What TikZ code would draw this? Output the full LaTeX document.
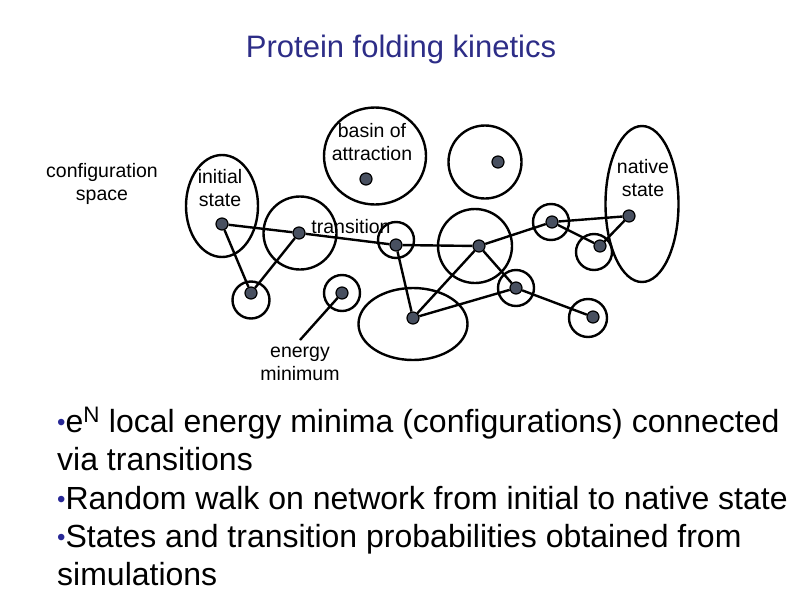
\documentclass[tikz,border=0pt]{standalone}
\usepackage{fontspec}
\setmainfont{Liberation Sans}
\usepackage{tikz}
\usetikzlibrary{positioning, shapes.geometric}
\definecolor{titleblue}{RGB}{45, 45, 135}
\definecolor{dotgray}{RGB}{72, 80, 96}
\definecolor{bulletblue}{RGB}{40, 40, 150}
\tikzset{
  ring/.style={draw, line width=2.4pt, ellipse, inner sep=0pt},
  state/.style={circle, draw, fill=dotgray, line width=1.2pt, inner sep=0pt, minimum size=12pt},
  link/.style={line width=2.4pt},
  label text/.style={align=center, inner sep=0pt, font=\fontsize{19.5}{23}\selectfont},
  bullet line/.style={anchor=base west, inner sep=0pt, font=\fontsize{32}{38}\selectfont}
}
\newcommand{\blt}{{\color{bulletblue}\raisebox{2pt}{\fontsize{24}{24}\selectfont\textbullet}}}
\begin{document}
\begin{tikzpicture}[x={(1pt,0pt)}, y={(0pt,-1pt)}]
    \useasboundingbox (0,0) rectangle (800,600);
    % title
    \node[text=titleblue, inner sep=0pt, font=\fontsize{31}{36}\selectfont] (title) at (401,49) {Protein folding kinetics};
    % basins round the minima
    \node[ring, minimum width=72pt, minimum height=102pt] (rini) at (222,206) {};
    \node[ring, minimum width=102pt, minimum height=97pt] (rbasin) at (375,156) {};
    \node[ring, minimum size=73pt] (rtrans) at (300,233) {};
    \node[ring, minimum size=36pt] (rc3) at (396,240) {};
    \node[ring, minimum size=74pt] (rc4) at (475,246) {};
    \node[ring, minimum size=73pt] (rtop) at (485,162) {};
    \node[ring, minimum size=36pt] (rc6) at (551,222) {};
    \node[ring, minimum size=36pt] (rc7) at (594,252) {};
    \node[ring, minimum width=73pt, minimum height=156pt] (rnat) at (642,204) {};
    \node[ring, minimum size=36pt] (rc5) at (516,288) {};
    \node[ring, minimum size=38pt] (rc8) at (588,318) {};
    \node[ring, minimum width=109pt, minimum height=72pt] (rbot) at (413,324) {};
    \node[ring, minimum size=37pt] (rbl) at (251,300) {};
    \node[ring, minimum size=36pt] (rem) at (342,293) {};
    % minima
    \node[state] (ini) at (222,224) {};
    \node[state] (basin) at (366,179) {};
    \node[state] (trans) at (299,233) {};
    \node[state] (c3) at (396,245) {};
    \node[state] (c4) at (479,246) {};
    \node[state] (top) at (498,162) {};
    \node[state] (c6) at (552,222) {};
    \node[state] (c7) at (600,246) {};
    \node[state] (nat) at (629,216) {};
    \node[state] (c5) at (516,288) {};
    \node[state] (c8) at (593,317) {};
    \node[state] (bot) at (413,318) {};
    \node[state] (bl) at (251,293) {};
    \node[state] (em) at (342,293) {};
    \coordinate (emtip) at (300,340);
    % transitions
    \draw[link] (ini) -- (trans);
    \draw[link] (trans) -- (c3);
    \draw[link] (c3) -- (c4);
    \draw[link] (ini) -- (bl);
    \draw[link] (bl) -- (trans);
    \draw[link] (c3) -- (bot);
    \draw[link] (bot) -- (c4);
    \draw[link] (bot) -- (c5);
    \draw[link] (c4) -- (c5);
    \draw[link] (c4) -- (c6);
    \draw[link] (c6) -- (nat);
    \draw[link] (c6) -- (c7);
    \draw[link] (c7) -- (nat);
    \draw[link] (c5) -- (c8);
    \draw[link] (em) -- (emtip);
    % labels
    \node[label text] (lconf) at (102,184) {configuration\\space};
    \node[label text] (lini) at (220,188) {initial\\state};
    \node[label text] (lbasin) at (372,142) {basin of\\attraction};
    \node[label text] (ltrans) at (351,227) {transition};
    \node[label text] (lnat) at (643,178) {native\\state};
    \node[label text, below=7pt of emtip] (lem) {energy\\minimum};
    % bullet points
    \node[bullet line] (b1) at (57,432) {\blt e\textsuperscript{N} local energy minima (configurations) connected};
    \node[bullet line] (b2) at (57,470) {via transitions};
    \node[bullet line] (b3) at (57,509) {\blt Random walk on network from initial to native state};
    \node[bullet line] (b4) at (57,547) {\blt States and transition probabilities obtained from};
    \node[bullet line] (b5) at (57,585) {simulations};
\end{tikzpicture}
\end{document}
